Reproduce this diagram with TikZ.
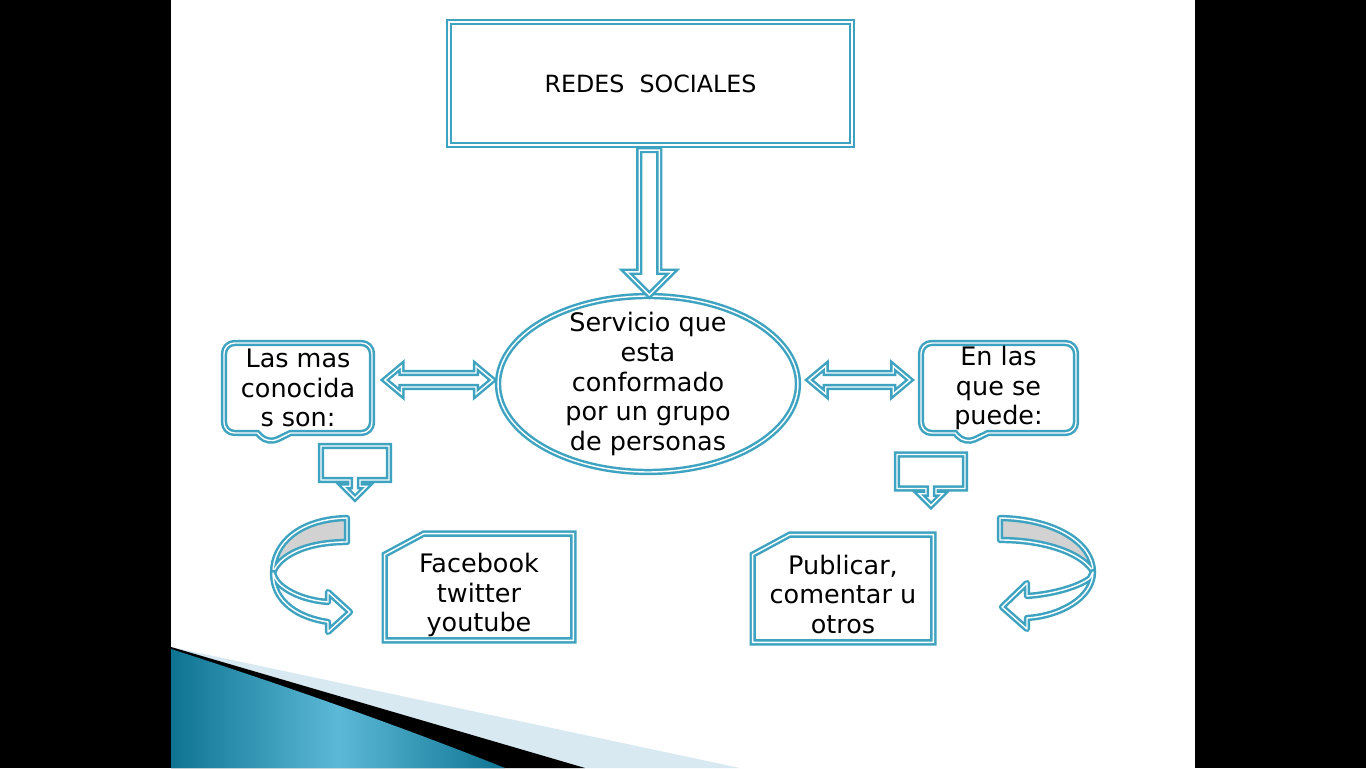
\documentclass[tikz,border=0pt]{standalone}
\usepackage{fontspec}
\setmainfont{DejaVu Sans}
\usetikzlibrary{
  arrows.meta,
  calc,
  positioning,
  shapes.geometric,
  shapes.arrows,
  shapes.callouts
}
\definecolor{rimteal}{RGB}{62,163,192}
\definecolor{ribbongray}{RGB}{210,210,210}
\definecolor{decoteal}{RGB}{14,116,146}
\definecolor{decolight}{RGB}{92,185,215}
\definecolor{decopale}{RGB}{216,233,241}
\tikzset{
  rim/.style={draw=rimteal,line width=1.4pt,double=white,double distance=0.8pt},
  txt/.style={align=center,inner sep=0pt,font=\fontsize{14.5}{17}\selectfont},
  titlebox/.style={rim,fill=white,rectangle,align=center,
    font=\fontsize{13.5}{15}\selectfont},
  ovalbox/.style={rim,fill=white,ellipse,inner sep=0pt},
  talk/.style={rim,fill=white,rectangle callout,rounded corners=6pt,
    callout pointer width=0.66cm,align=center,inner sep=1pt,
    font=\fontsize{14.5}{17}\selectfont},
  downarr/.style={rim,fill=white,single arrow,single arrow head extend=7.5pt,
    inner sep=5pt,rotate=-90},
  dblarr/.style={rim,fill=white,double arrow,double arrow head extend=4pt,
    double arrow tip angle=80,inner sep=3.3pt},
  pointbox/.style={rim,fill=white,arrow box,arrow box shaft width=0.2cm,
    arrow box head extend=0.14cm,arrow box head indent=0pt,
    minimum width=1.36cm,minimum height=0.68cm,inner sep=0pt},
  ribbon/.style={rim,line join=round}
}

\begin{document}
\begin{tikzpicture}[x=0.02cm,y=0.02cm]
  % slide and side bars
  \fill[black] (0,0) rectangle (1366,768);
  \fill[white] (171,0) rectangle (1195,768);
  % corner decoration
  \fill[decopale] (171,121) -- (740,0) -- (171,0) -- cycle;
  \fill[black] (171,121) -- (585,0) -- (171,0) -- cycle;
  \shade[left color=decoteal,right color=decoteal,middle color=decolight]
    (171,119) .. controls (280,84) and (400,42) .. (505,0) -- (171,0) -- cycle;

  \node[titlebox,minimum width=8.06cm,minimum height=2.46cm] (title)
    at (650.5,684.5) {REDES\ \ SOCIALES};
  \node[ovalbox,minimum width=6cm,minimum height=3.52cm] (serv) at (648,384) {};
  \node[txt] (servtxt) at (serv.center)
    {Servicio que\\esta\\conformado\\por un grupo\\de personas};

  \node[talk,minimum width=2.96cm,minimum height=1.8cm,
    callout absolute pointer={(268,324)}] (lcall) at (298,380)
    {Las mas\\conocida\\s son:};
  \node[talk,minimum width=3.1cm,minimum height=1.8cm,
    callout absolute pointer={(965,324)}] (rcall) at (998.5,380)
    {En las\\que se\\puede:};

  \path (title.south) -- (serv.north)
    node[downarr,pos=0.48,minimum height=2.9cm] (down) {};
  \path ($(lcall.east)+(0,8)$) -- ($(serv.west)+(0,4)$)
    node[dblarr,pos=0.53,minimum height=2.16cm] (larr) {};
  \path ($(serv.east)+(0,4)$) -- ($(rcall.west)+(0,8)$)
    node[dblarr,midway,minimum height=2.02cm] (rarr) {};

  \node[pointbox,arrow box arrows={south:0.34cm from border}] (lpoint)
    at (355,305) {};
  \node[pointbox,arrow box arrows={south:0.32cm from border}] (rpoint)
    at (931,296.5) {};

  % left u-turn
  \draw[ribbon,fill=ribbongray] (347,250) .. controls (300,249) and (273,225)
    .. (273,195) .. controls (279,212) and (305,226) .. (347,226) -- cycle;
  \draw[ribbon,fill=white] (273,195) .. controls (273,165) and (300,150)
    .. (328,146) -- (328,136) -- (350,156) -- (328,176) -- (328,166)
    .. controls (300,168) and (280,180) .. (275,190) -- cycle;
  % right u-turn
  \draw[ribbon,fill=ribbongray] (1000,250) .. controls (1055,249) and (1093,225)
    .. (1093,196) .. controls (1085,212) and (1050,228) .. (1000,228) -- cycle;
  \draw[ribbon,fill=white] (1093,196) .. controls (1093,170) and (1060,152)
    .. (1027,150) -- (1027,139) -- (1002,161) -- (1027,185) -- (1027,172)
    .. controls (1055,174) and (1080,182) .. (1090,190) -- cycle;

  \node[minimum width=3.76cm,minimum height=2.12cm] (fbbox) at (479,181) {};
  \draw[rim,fill=white] ($(fbbox.north west)+(0,-21)$)
    -- ($(fbbox.north west)+(39,0)$) -- (fbbox.north east)
    -- (fbbox.south east) -- (fbbox.south west) -- cycle;
  \node[txt] (fb) at ($(fbbox.center)+(0,-8)$) {Facebook\\twitter\\youtube};

  \node[minimum width=3.6cm,minimum height=2.14cm] (pubbox) at (843,179.5) {};
  \draw[rim,fill=white] ($(pubbox.north west)+(0,-20)$)
    -- ($(pubbox.north west)+(37,0)$) -- (pubbox.north east)
    -- (pubbox.south east) -- (pubbox.south west) -- cycle;
  \node[txt] (pub) at ($(pubbox.center)+(0,-6)$) {Publicar,\\comentar u\\otros};
\end{tikzpicture}
\end{document}
